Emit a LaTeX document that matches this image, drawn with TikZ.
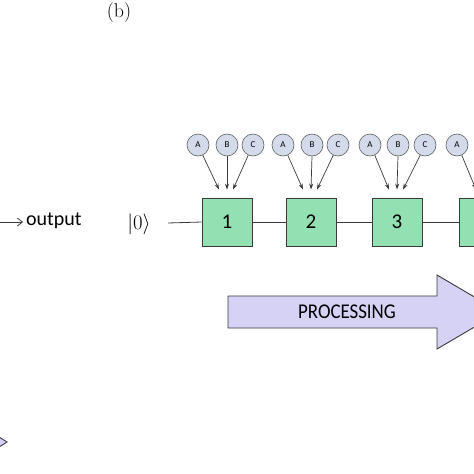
\documentclass[tikz,border=0pt]{standalone}
\usepackage{fontspec}
\usepackage{graphicx}
\usetikzlibrary{arrows.meta,calc}
\newfontfamily\handfont{Carlito}
\definecolor{boxgreen}{HTML}{93E0B2}
\definecolor{circfill}{HTML}{D3DAEA}
\definecolor{procfill}{HTML}{D6D2F6}
\definecolor{inkgray}{HTML}{3A3A3A}
\tikzset{
  gatebox/.style={draw=inkgray, line width=0.9pt, fill=boxgreen, minimum width=50pt, minimum height=48pt, inner sep=0pt, font=\handfont\fontsize{21}{21}\selectfont},
  qubit/.style={circle, draw=inkgray!80, line width=0.6pt, fill=circfill, minimum size=22pt, inner sep=0pt, font=\handfont\fontsize{9}{9}\selectfont},
  feed/.style={draw=inkgray, line width=0.7pt, -{Stealth[length=6pt,width=4pt]}},
  wire/.style={draw=inkgray, line width=0.8pt},
  proc/.style={draw=inkgray, line width=0.9pt, fill=procfill, line join=miter}
}
\begin{document}
\begin{tikzpicture}[x=1pt,y=-1pt]
\useasboundingbox (0,0) rectangle (474,474);
\clip (0,0) rectangle (474,474);
\fill[white] (0,0) rectangle (474,474);

\node[font=\fontsize{20}{20}\selectfont] (lbl) at (119,13) {(b)};

% output arrow from panel (a)
\coordinate (os) at (-2,222);
\coordinate (oe) at (23,222);
\draw[draw=inkgray, line width=0.8pt, -{Straight Barb[length=5pt,width=8pt]}] (os) -- (oe);
\node[font=\handfont\fontsize{20}{20}\selectfont, anchor=west, inner sep=0pt] (out) at (26,221) {output};

% ket
\node[font=\handfont\fontsize{22}{22}\selectfont, inner sep=0pt] (ket) at (139,224) {$|0\rangle$};

% boxes
\node[gatebox] (b1) at (227,222) {1};
\node[gatebox] (b2) at (311,222) {2};
\node[gatebox] (b3) at (397,222) {3};
\node[gatebox] (b4) at (484,222) {};

\coordinate (w0) at (168,223);
\draw[wire] (w0) -- (b1.west);
\draw[wire] (b1.east) -- (b2.west);
\draw[wire] (b2.east) -- (b3.west);
\draw[wire] (b3.east) -- (b4.west);

% qubit circles
\foreach \i/\x in {1/198,2/283,3/370,4/457}{
  \node[qubit] (a\i) at (\x,145) {A};
}
\foreach \i/\x in {1/227,2/312,3/398}{
  \node[qubit] (bb\i) at (\x,145) {B};
}
\foreach \i/\x in {1/253,2/338,3/425}{
  \node[qubit] (cc\i) at (\x,145) {C};
}

% feed arrows
\foreach \i in {1,2,3,4}{
  \draw[feed] (a\i.-65) -- ($(b\i.north)+(-8,-8)$);
}
\foreach \i in {1,2,3}{
  \draw[feed] (bb\i.south) -- ($(b\i.north)+(0,-8)$);
  \draw[feed] (cc\i.-115) -- ($(b\i.north)+(6,-8)$);
}

% processing arrow
\draw[proc] (228,296) -- (437,296) -- (437,275) -- (500,312) -- (437,349) -- (437,328) -- (228,328) -- cycle;
\node[font=\handfont\fontsize{21}{21}\selectfont] (ptxt) at (347,312) {\scalebox{0.9}[1]{PROCESSING}};

% tip of the arrow from panel (a)
\draw[proc] (-12,430) -- (7,442) -- (-12,454);
\end{tikzpicture}
\end{document}
